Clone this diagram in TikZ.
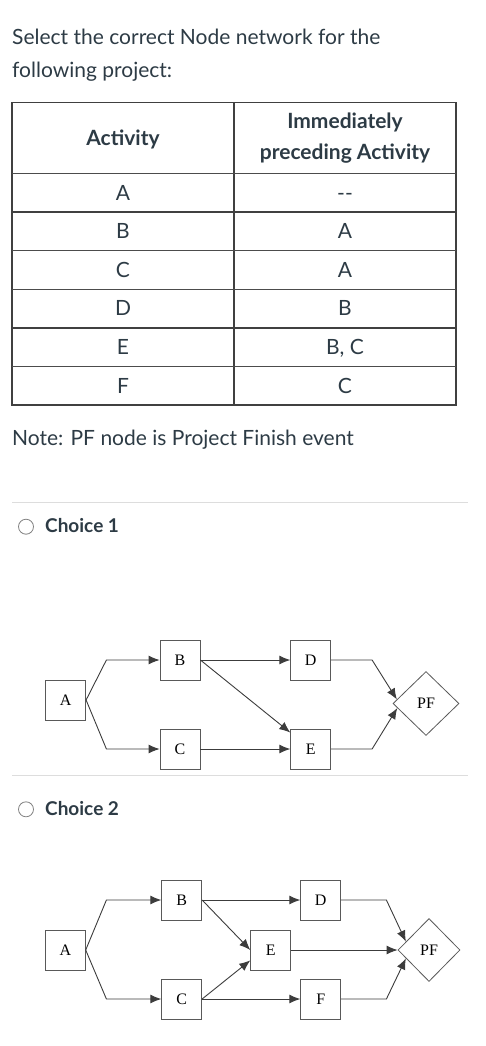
\documentclass[tikz,border=0pt]{standalone}
\usepackage{fontspec}
\setmainfont{Lato}
\newfontfamily\netfont{Liberation Serif}
\usetikzlibrary{arrows.meta,shapes.geometric}

\definecolor{ink}{HTML}{2D3B45}
\definecolor{rule}{HTML}{DDDDDD}
\definecolor{edge}{HTML}{3C3C3C}

\begin{document}
\begin{tikzpicture}[x=1pt,y=-1pt,
  txt/.style={anchor=base west,inner sep=0,text=ink,font=\fontsize{21}{24}\selectfont},
  cell/.style={anchor=base,inner sep=0,text=ink,font=\fontsize{21}{24}\selectfont},
  head/.style={cell,font=\bfseries\fontsize{21}{24}\selectfont},
  act/.style={draw=edge!85,line width=0.8pt,minimum size=40pt,inner sep=0,font=\netfont\fontsize{16}{16}\selectfont},
  fin/.style={diamond,draw=edge!85,line width=0.8pt,inner sep=0,font=\netfont\fontsize{16}{16}\selectfont},
  arr/.style={draw=edge,line width=0.9pt,-{Latex[length=11pt,width=9pt]}}]
\useasboundingbox (0,0) rectangle (486,1046);

% question
\node[txt] (q1) at (12,45) {Select the correct Node network for the};
\node[txt] (q2) at (12,78) {following project:};

% table grid
\draw[line width=1.3pt,black!75] (12,102.3) rectangle (456,405);
\draw[line width=1.3pt,black!75] (234,102.3) -- (234,405);
\foreach \y in {173.3,250.5,289.1,366.3} {
    \draw[line width=1.1pt,black!70] (12,\y) -- (456,\y);
}
\foreach \y in {211.9,327.7} {
    \draw[line width=2pt,black!75] (12,\y) -- (456,\y);
}
% table text
\node[head] (hAct) at (123,145) {Activity};
\node[head] (hPre1) at (345,128.3) {Immediately};
\node[head] (hPre2) at (345,159) {preceding Activity};
\foreach \a/\p [count=\i] in {A/{{-}{-}},B/A,C/A,D/B,E/{B, C},F/C} {
    \node[cell] (act\i) at (123,{200+38.6*(\i-1)}) {\a};
    \node[cell] (pre\i) at (345,{200+38.6*(\i-1)}) {\p};
}

\node[txt] (note) at (12,445) {Note: PF node is Project Finish event};

% choice 1
\draw[rule,line width=1pt] (12,502.3) -- (468,502.3);
\draw[gray,line width=0.8pt] (26,526.7) circle[radius=7.5];
\node[txt,font=\bfseries\fontsize{19}{24}\selectfont] (ch1) at (45,532.3) {Choice 1};

\node[act] (A1) at (65.7,700) {A};
\node[act] (B1) at (180,660) {B};
\node[act] (C1) at (180,749) {C};
\node[act] (D1) at (310.7,660) {D};
\node[act] (E1) at (310.7,749) {E};
\node[fin,minimum width=66pt,minimum height=64pt] (PF1) at (426,703.5) {PF};

\draw[arr] (A1.east) -- ++(20.3,-40) -- (B1.west);
\draw[arr] (A1.east) -- ++(20.3,49) -- (C1.west);
\draw[arr] (B1.east) -- (D1.west);
\draw[arr] (B1.east) -- (E1);
\draw[arr] (C1.east) -- (E1.west);
\draw[arr] (D1.east) -- ++(41,0) -- (PF1.172);
\draw[arr] (E1.east) -- ++(41,0) -- (PF1.189);

% choice 2
\draw[rule,line width=1pt] (12,775) -- (468,775);
\draw[gray,line width=0.8pt] (26,809.3) circle[radius=7.5];
\node[txt,font=\bfseries\fontsize{19}{24}\selectfont] (ch2) at (45,815) {Choice 2};

\node[act] (A2) at (65.3,950) {A};
\node[act] (B2) at (181.7,900) {B};
\node[act] (C2) at (181.7,999) {C};
\node[act] (E2) at (270.7,950) {E};
\node[act] (D2) at (320.7,900) {D};
\node[act] (F2) at (320.7,999) {F};
\node[fin,minimum width=62pt,minimum height=63pt] (PF2) at (429,950) {PF};

\draw[arr] (A2.east) -- ++(20.7,-50) -- (B2.west);
\draw[arr] (A2.east) -- ++(20.7,49) -- (C2.west);
\draw[arr] (B2.east) -- (D2.west);
\draw[arr] (B2.east) -- (E2.west);
\draw[arr] (C2.east) -- (E2.207);
\draw[arr] (C2.east) -- (F2.west);
\draw[arr] (D2.east) -- ++(45.3,0) -- (PF2.160);
\draw[arr] (E2.east) -- (PF2.west);
\draw[arr] (F2.east) -- ++(45.3,0) -- (PF2.200);
\end{tikzpicture}
\end{document}
